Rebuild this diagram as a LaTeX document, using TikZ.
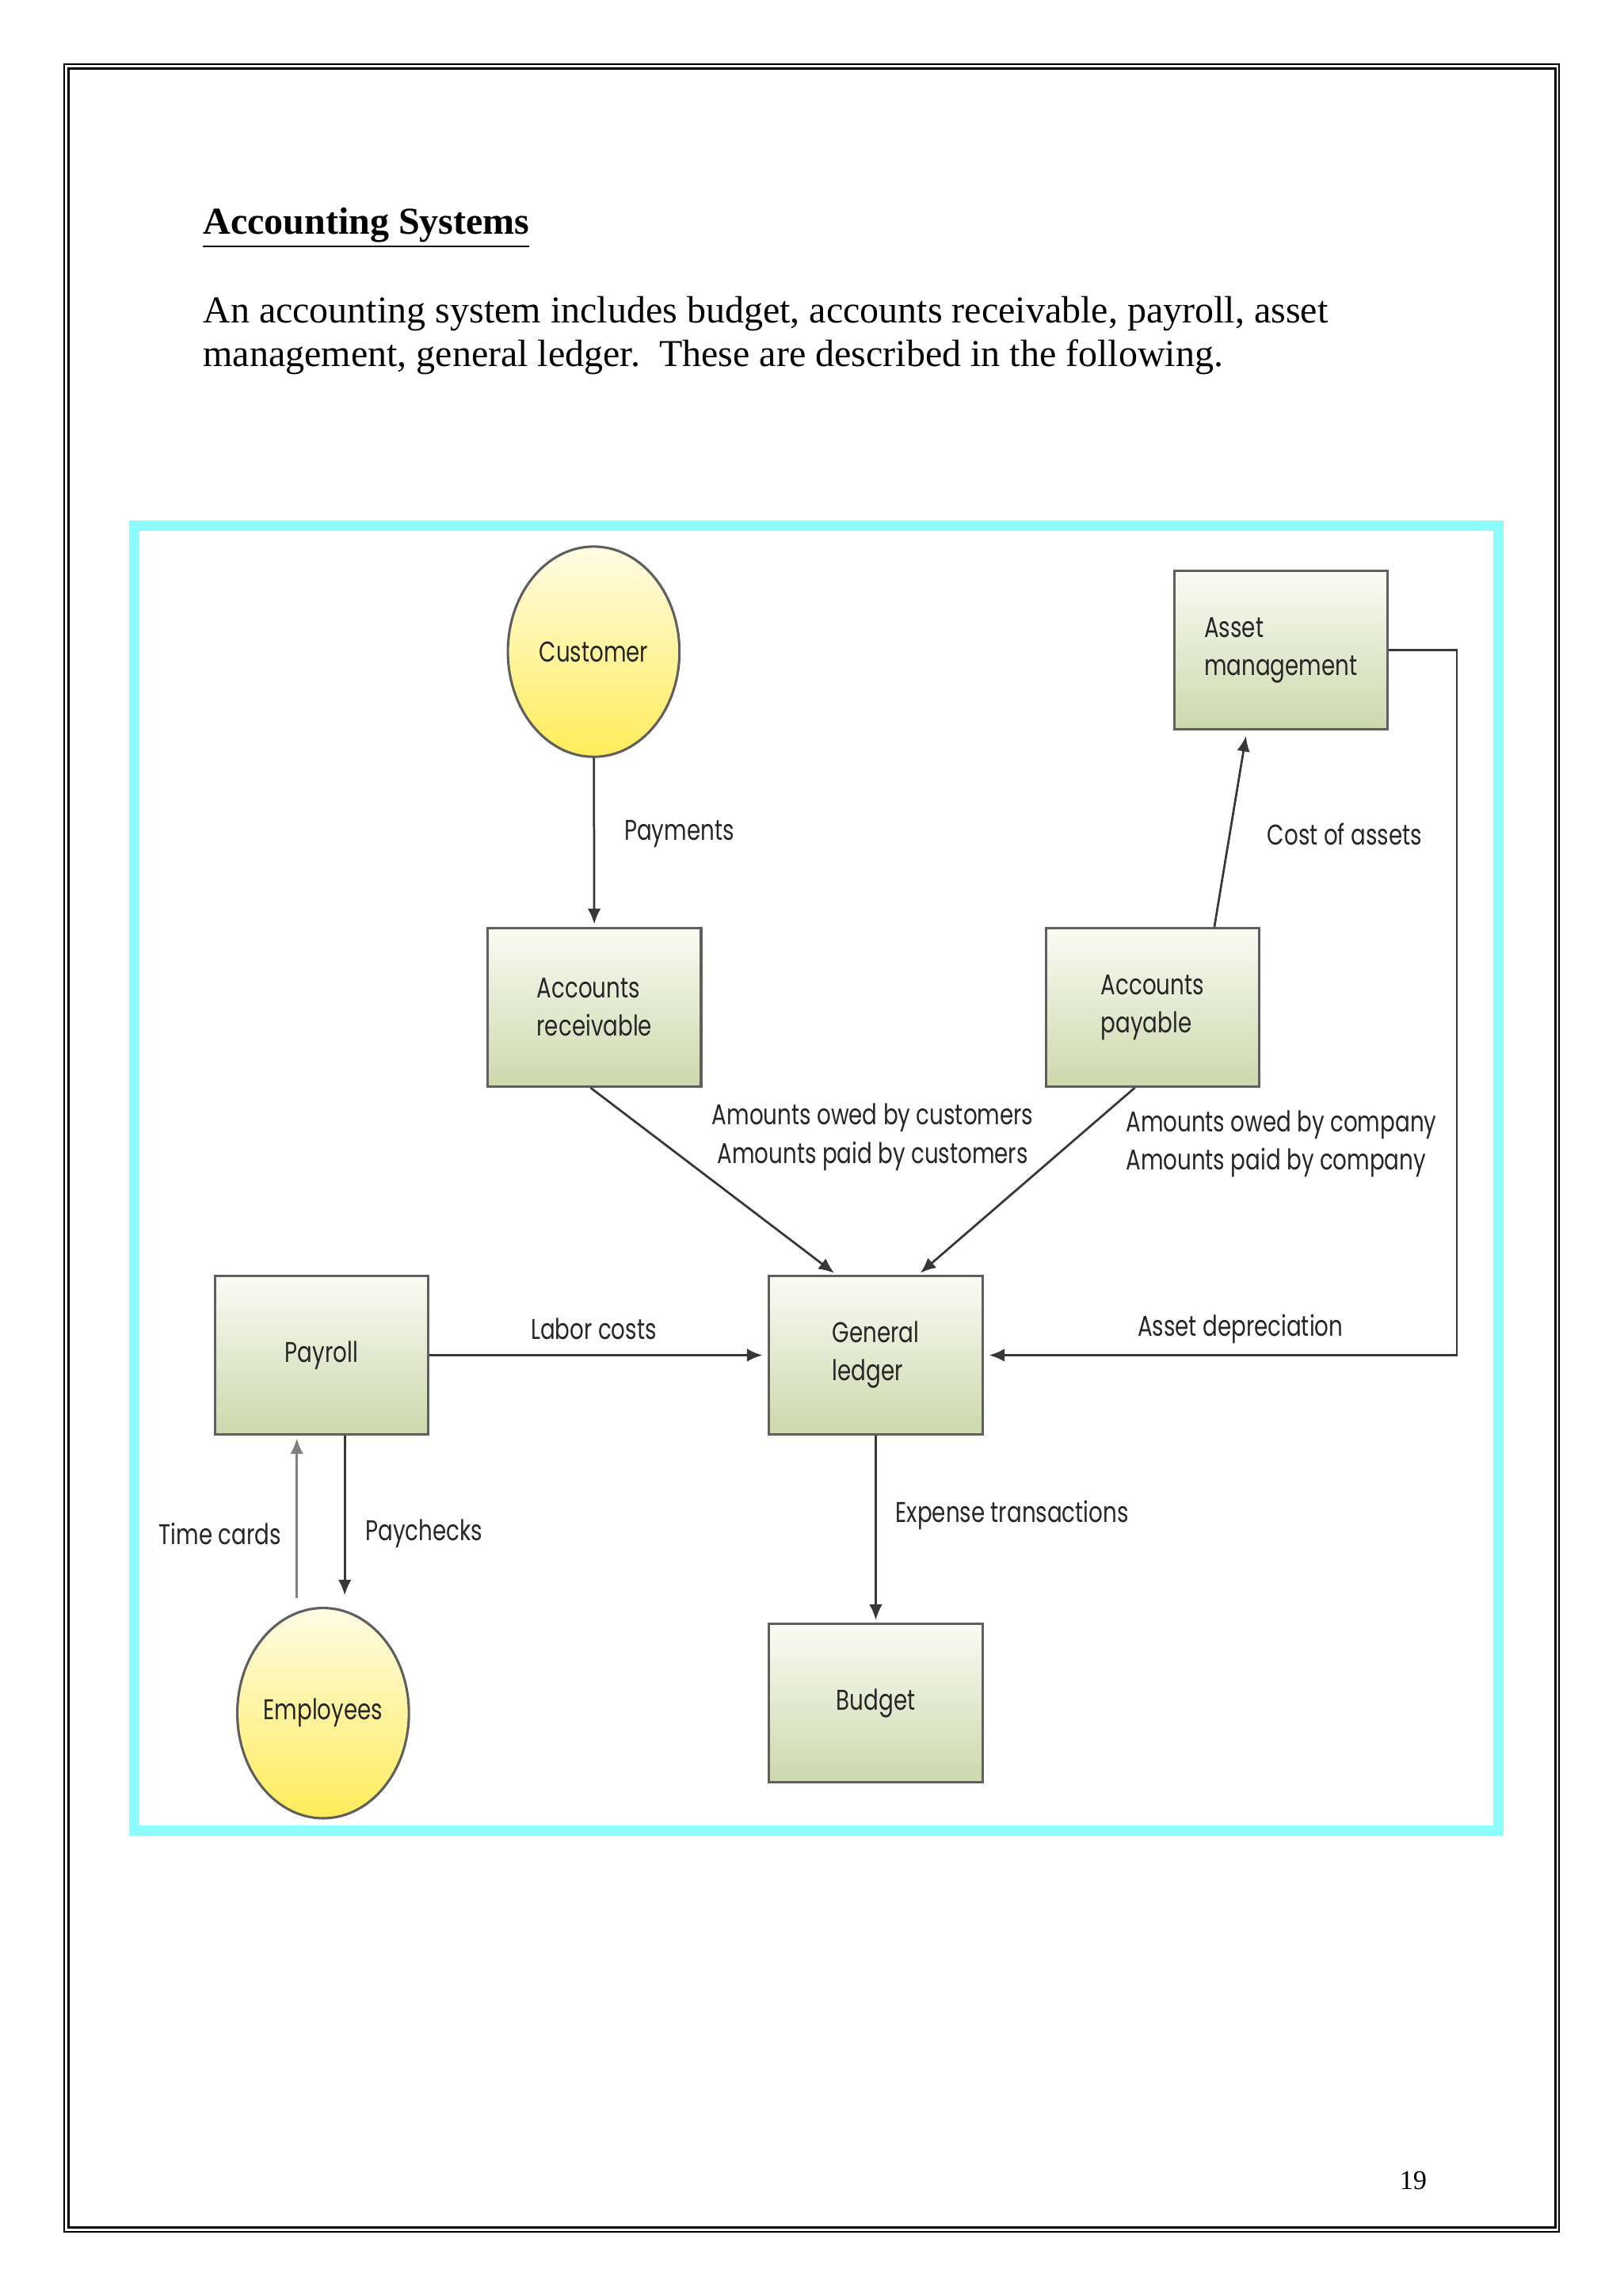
\documentclass[tikz,border=0pt]{standalone}
\usepackage{fontspec}
\setmainfont{Liberation Serif}
\newfontfamily\diafont{Poppins}[FakeStretch=0.77]
\usepackage{xcolor}
\usepackage{tikz}
\usetikzlibrary{shapes, arrows.meta, positioning, calc}

\definecolor{framecyan}{RGB}{140,252,252}
\definecolor{boxtop}{RGB}{250,251,244}
\definecolor{boxbot}{RGB}{205,216,172}
\definecolor{elltop}{RGB}{255,252,228}
\definecolor{ellbot}{RGB}{255,236,90}
\definecolor{edgegray}{RGB}{95,95,95}
\definecolor{flowgray}{RGB}{55,55,55}

\begin{document}
\begin{tikzpicture}[
    box/.style={rectangle, draw=edgegray, line width=0.9pt, top color=boxtop, bottom color=boxbot, minimum width=2.76cm, minimum height=2.05cm, align=left, font=\diafont\fontsize{10.5}{14}\selectfont, text=black!85},
    entity/.style={ellipse, draw=edgegray, line width=0.9pt, top color=elltop, bottom color=ellbot, minimum width=2.22cm, minimum height=2.72cm, inner sep=0pt, font=\diafont\fontsize{10.5}{14}\selectfont, text=black!85},
    flow/.style={font=\diafont\fontsize{10.5}{14}\selectfont, text=black!85, inner sep=0pt},
    link/.style={->, flowgray, line width=0.8pt},
    >={Latex[length=2mm,width=1.7mm]}
]
\useasboundingbox (0,0) rectangle (21,-29.7);

% Page border
\draw[line width=0.4pt] (0.83,-0.83) rectangle (20.17,-28.87);
\draw[line width=0.8pt] (0.89,-0.89) rectangle (20.12,-28.81);

% Heading and text
\node[anchor=base west, inner sep=0pt, font=\fontsize{14}{16.1}\selectfont\bfseries] (title) at (2.62,-3.03) {\underline{Accounting Systems}};
\node[anchor=base west, inner sep=0pt, align=left, font=\fontsize{14}{16.1}\selectfont] (intro) at (2.62,-4.74) {An accounting system includes budget, accounts receivable, payroll, asset\\management, general ledger.\ \ These are described in the following.};

% Frame
\draw[framecyan, line width=0.133cm] (1.733,-6.80) rectangle (19.38,-23.68);

% Entities
\node[entity] (customer) at (7.68,-8.43) {Customer};
\node[entity] (employees) at (4.18,-22.16) {Employees};

% Processes
\node[box] (ar) at (7.69,-13.03) {Accounts\\receivable};
\node[box] (ap) at (14.91,-13.03) {Accounts\\payable};
\node[box] (am) at (16.57,-8.41) {Asset\\management};
\node[box] (payroll) at (4.16,-17.53) {Payroll};
\node[box] (gl) at (11.33,-17.53) {General\\ledger};
\node[box] (budget) at (11.33,-22.03) {Budget};

% Flows
\draw[link, shorten >=1pt] (customer) -- (ar);
\draw[link, shorten >=2pt] ($(ap.north)+(0.80,0)$) -- ($(am.south)+(-0.44,0)$);
\draw[link, shorten >=2pt] (am.east) -- ++(0.88,0) |- (gl.east);
\draw[link, shorten >=1pt] ($(ar.south)+(-0.05,0)$) -- ($(gl.north)+(-0.51,0)$);
\draw[link, shorten >=1pt] ($(ap.south)+(-0.23,0)$) -- ($(gl.north)+(0.55,0)$);
\draw[link, shorten >=2pt] (payroll) -- (gl);
\draw[link, gray, shorten >=1pt] ($(payroll.south)+(-0.32,-2.1)$) -- ($(payroll.south)+(-0.32,0)$);
\draw[link, shorten >=1pt] ($(payroll.south)+(0.30,0)$) -- ($(payroll.south)+(0.30,-2.1)$);
\draw[link, shorten >=1pt] (gl) -- (budget);

% Flow labels
\node[flow, anchor=west] (lpay) at (8.07,-10.79) {Payments};
\node[flow, anchor=west] (lcost) at (16.39,-10.79) {Cost of assets};
\node[flow, align=center] (lcust) at (11.29,-14.71) {Amounts owed by customers\\Amounts paid by customers};
\node[flow, align=left, anchor=west] (lcomp) at (14.56,-14.80) {Amounts owed by company\\Amounts paid by company};
\node[flow] (llabor) at (7.68,-17.19) {Labor costs};
\node[flow, anchor=west] (ldep) at (14.71,-17.19) {Asset depreciation};
\node[flow, anchor=west] (ltime) at (2.05,-19.84) {Time cards};
\node[flow, anchor=west] (lcheck) at (4.72,-19.84) {Paychecks};
\node[flow, anchor=west] (lexp) at (11.58,-19.60) {Expense transactions};

% Page number
\node[anchor=base west, inner sep=0pt, font=\fontsize{10}{12}\selectfont] (pagenum) at (18.10,-28.32) {19};

\end{tikzpicture}
\end{document}
